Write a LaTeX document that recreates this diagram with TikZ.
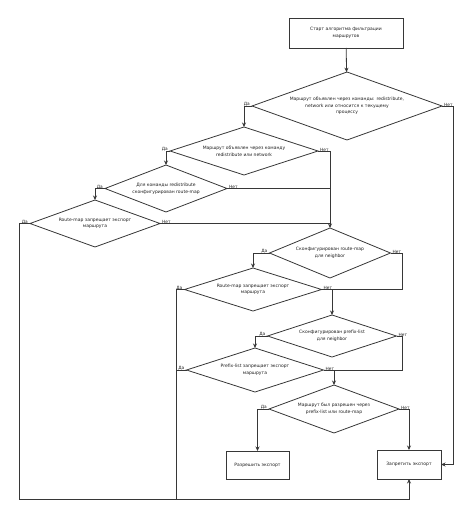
\documentclass[tikz,border=0pt]{standalone}
\usepackage{fontspec}
\setmainfont{DejaVu Sans}
\usetikzlibrary{shapes.geometric,arrows.meta}
\definecolor{ln}{RGB}{55,55,55}
\definecolor{tx}{RGB}{30,30,30}
\tikzset{
  base/.style={draw=ln, line width=0.8pt, text=tx, font=\fontsize{4.5}{6.6}\selectfont, align=center, inner sep=0pt, outer sep=0pt},
  dia/.style={base, diamond, aspect=2.5},
  box/.style={base, rectangle},
  conn/.style={draw=ln, line width=0.8pt},
  arr/.style={conn, -{Stealth[length=4.5pt,width=4pt]}},
  lbl/.style={text=tx, font=\fontsize{4.3}{5}\selectfont, inner sep=1pt}
}
\begin{document}
\begin{tikzpicture}[x=1pt,y=-1pt]
\useasboundingbox (0,0) rectangle (474,519);
% boxes
\node[box, minimum width=114pt, minimum height=30pt] (start) at (346,33) {Старт алгоритма фильтрации\\маршрутов};
\node[box, minimum width=63pt, minimum height=28pt] (allow) at (257.5,465) {Разрешить экспорт};
\node[box, minimum width=64pt, minimum height=29pt] (deny) at (409,464.5) {Запретить экспорт};
% diamonds
\node[dia, minimum width=190pt, minimum height=68pt] (d1) at (347,106) {Маршрут объявлен через команды: redistribute,\\network или относится к текущему\\процессу};
\node[dia, minimum width=148pt, minimum height=48pt] (d2) at (244,151) {Маршрут объявлен через команду\\redistribute или network};
\node[dia, minimum width=122pt, minimum height=47pt] (d3) at (166,188.5) {Для команды redistribute\\сконфигурирован route-map};
\node[dia, minimum width=130pt, minimum height=47pt] (d4) at (95,223.5) {Route-map запрещает экспорт\\маршрута};
\node[dia, minimum width=121pt, minimum height=50pt] (d5) at (330,253) {Сконфигурирован route-map\\для neighbor};
\node[dia, minimum width=137pt, minimum height=43pt] (d6) at (253,289.5) {Route-map запрещает экспорт\\маршрута};
\node[dia, minimum width=129pt, minimum height=42pt] (d7) at (332,336) {Сконфигурирован prefix-list\\для neighbor};
\node[dia, minimum width=137pt, minimum height=44pt] (d8) at (255,370) {Prefix-list запрещает экспорт\\маршрута};
\node[dia, minimum width=130pt, minimum height=48pt] (d9) at (334,409) {Маршрут был разрешен через\\prefix-list или route-map};
% labels
\foreach \d in {d1,d2,d3,d4,d5,d6,d7,d8,d9}{
  \node[lbl, anchor=south east] (\d y) at ([xshift=-1pt,yshift=-1.5pt]\d.west) {Да};
  \node[lbl, anchor=south west] (\d n) at ([xshift=1pt,yshift=-1.5pt]\d.east) {Нет};
}
% helper coordinates
\coordinate (r1) at (453,106);
\coordinate (r2) at (402,253);
\coordinate (r3) at (402,336);
\coordinate (bl) at (19,499);
\coordinate (bm) at (176,499);
\coordinate (j1) at (d6.east -| d7.north);
\coordinate (j2) at (d8.east -| d9.north);
% connectors
\draw[arr] (start) -- (d1);
\draw[arr] (d1.west) -| (d2.north);
\draw[arr] (d2.west) -| (d3.north);
\draw[arr] (d3.west) -| (d4.north);
\draw[arr] (d2.east) -| (d5.north);
\draw[conn] (d3.east) -- (d3.east -| d5.north);
\draw[conn] (d4.east) -- (d4.east -| d5.north);
\draw[arr] (d5.west) -| (d6.north);
\draw[conn] (d5.east) -- (r2) |- (j1);
\draw[conn] (d6.east) -- (j1);
\draw[arr] (j1) -- (d7.north);
\draw[arr] (d7.west) -| (d8.north);
\draw[conn] (d7.east) -- (r3) |- (j2);
\draw[conn] (d8.east) -- (j2);
\draw[arr] (j2) -- (d9.north);
\draw[arr] (d9.west) -| (allow.north);
\draw[arr] (d9.east) -| (deny.north);
\draw[arr] (d1.east) -- (r1) |- (deny.east);
\draw[arr] (d4.west) -| (bl) -| (deny.south);
\draw[conn] (d6.west) -| (bm);
\draw[conn] (d8.west) -- (d8.west -| bm);
\end{tikzpicture}
\end{document}
